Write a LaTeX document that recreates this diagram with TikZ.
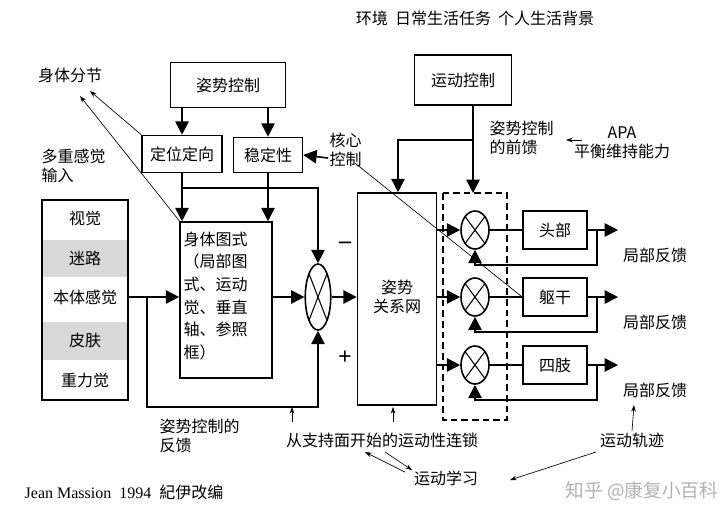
\documentclass[tikz,border=0pt]{standalone}
\usepackage{fontspec}
\setmainfont{Liberation Serif}
\newfontfamily\cjk{Noto Sans CJK SC}
\usetikzlibrary{arrows.meta,shapes.geometric}
\begin{document}
\begin{tikzpicture}[x=0.75pt,y=-0.75pt,
  box/.style={draw,line width=1.2pt,inner sep=0pt},
  txt/.style={font=\cjk\fontsize{12}{14}\selectfont,inner sep=1pt},
  big/.style={-{Triangle[length=10pt,width=10pt]},line width=1.2pt},
  thin/.style={-{Stealth[length=5pt,width=3.5pt]},line width=0.5pt},
  cmp/.style={draw,line width=1.2pt,ellipse,minimum width=#1,inner sep=0pt,path picture={
     \draw[line width=0.8pt] (path picture bounding box.north west)--(path picture bounding box.south east)
       (path picture bounding box.north east)--(path picture bounding box.south west);}},
  line/.style={line width=1.2pt}]
\useasboundingbox (0,0) rectangle (720,519);
\fill[white] (0,0) rectangle (720,519);
% top text
\node[txt] (env) at (475,18) {环境\ \ 日常生活任务\ \ 个人生活背景};
\node[box,minimum width=97pt*0.75,minimum height=50pt*0.75,txt] (mc) at (463,80) {运动控制};
\node[box,minimum width=115pt*0.75,minimum height=45pt*0.75,txt] (pc) at (228,85) {姿势控制};
\node[box,minimum width=80pt*0.75,minimum height=37pt*0.75,txt] (ori) at (182,154) {定位定向};
\node[box,minimum width=69pt*0.75,minimum height=35pt*0.75,txt] (sta) at (268,155) {稳定性};
\node[txt] (seg) at (70,75) {身体分节};
\node[txt,align=left,anchor=west] (multi) at (40,166) {多重感觉\\输入};
\node[txt,align=left,anchor=west] (core) at (328,150) {核心\\控制};
% sensory box
\fill[gray!30] (42,240) rectangle (128,277);
\fill[gray!30] (42,322) rectangle (128,360);
\node[box,minimum width=86pt*0.75,minimum height=200pt*0.75] (sens) at (85,300) {};
\node[txt] (s1) at (85,218) {视觉};
\node[txt] (s2) at (85,258) {迷路};
\node[txt] (s3) at (85,297) {本体感觉};
\node[txt] (s4) at (85,340) {皮肤};
\node[txt] (s5) at (85,380) {重力觉};
% body schema
\node[box,minimum width=92pt*0.75,minimum height=156pt*0.75] (bs) at (226,300) {};
\node[txt,align=left,anchor=north west,font=\cjk\fontsize{12}{17}\selectfont] (bst) at (182,230) {身体图式\\（局部图\\式、运动\\觉、垂直\\轴、参照\\框）};
\node[cmp=17pt*1.5*0.75,minimum height=66pt*0.75] (c0) at (318,297) {};
\node[font=\fontsize{18}{18}\selectfont\bfseries] (minus) at (345,245) {–};
\node[font=\fontsize{18}{18}\selectfont\bfseries] (plus) at (345,358) {+};
\node[box,minimum width=79pt*0.75,minimum height=212pt*0.75] (net) at (397,299) {};
\node[txt,align=center] (nett) at (397,297) {姿势\\关系网};
\draw[line width=1pt,dash pattern=on 5pt off 3pt] (443,193) rectangle (507,420);
\coordinate (dtop) at (473,193);
% comparators and parts
\foreach \i/\y/\n in {1/230/头部,2/297/躯干,3/365/四肢}{
  \node[cmp=28pt*0.75,minimum height=38pt*0.75] (c\i) at (475,\y) {};
  \node[box,minimum width=64pt*0.75,minimum height=38pt*0.75,txt] (p\i) at (555,\y) {\n};
  \coordinate (o\i) at (618,\y);
  \draw[big] (net.east|-c\i) -- (c\i);
  \draw[line] (c\i) -- (p\i);
  \draw[big] (p\i) -- (o\i);
  \draw[big] (597,\y) -- (597,\y+35) -- (475,\y+35) -- (c\i.south);
  \node[txt] (lf\i) at (655,\y+25) {局部反馈};
}
% top connections
\draw[big] (pc.south-|ori) -- (ori);
\draw[big] (pc.south-|sta) -- (sta);
\draw[big] (ori) -- (ori|-bs.north);
\draw[big] (sta) -- (sta|-bs.north);
\draw[big] (ori.south|-0,188) -- (318,188) -- (c0.north);
\draw[big] (core.west|-sta.east) ++(0,3) -- (sta.east);
\draw[big] (sens.east|-s3) -- (bs.west|-s3);
\draw[big] (147,297) -- (147,407) -- (318,407) -- (c0.south);
\draw[big] (bs.east|-c0) -- (c0);
\draw[big] (c0) -- (net.west|-c0);
\draw[big] (mc.south-|dtop) -- (dtop);
\draw[big] (473,140) -- (398,140) -- (net.north-|398,0);
% thin arrows
\draw[thin] (ori.north west) -- (90,91);
\draw[thin] (bs.north west) ++(2,2) -- (80,96);
\draw[line width=0.5pt] (core.south east) ++(-8,-5) -- (p2.west);
\node[txt,align=left,anchor=west] (ff) at (488,138) {姿势控制\\的前馈};
\node[txt,align=center] (apa) at (622,143) {APA\\平衡维持能力};
\draw[thin] (582,140) -- (566,140);
% bottom
\node[txt,align=left,anchor=west] (fb) at (158,436) {姿势控制的\\反馈};
\node[txt] (chain) at (382,440) {从支持面开始的运动性连锁};
\node[txt] (traj) at (632,440) {运动轨迹};
\node[txt] (learn) at (446,478) {运动学习};
\coordinate (a1) at (292,407); \coordinate (a2) at (393,407); \coordinate (a3) at (634,405);
\draw[thin] (292,422) -- (a1);
\draw[thin] (393,422) -- (a2);
\draw[thin] (traj.north) -- (a3);
\draw[thin] (405,472) -- (365,452);
\draw[thin] (385,452) -- (412,470);
\draw[thin] (596,452) -- (510,480);
\node[font=\fontsize{12}{14}\selectfont,anchor=west] (cite) at (20,492) {Jean Massion\ \ 1994\ \ {\cjk 紀伊改编}};
\node[txt,text=gray!60,font=\cjk\fontsize{14}{16}\selectfont] (wm) at (642,491) {知乎 @康复小百科};
\end{tikzpicture}
\end{document}
